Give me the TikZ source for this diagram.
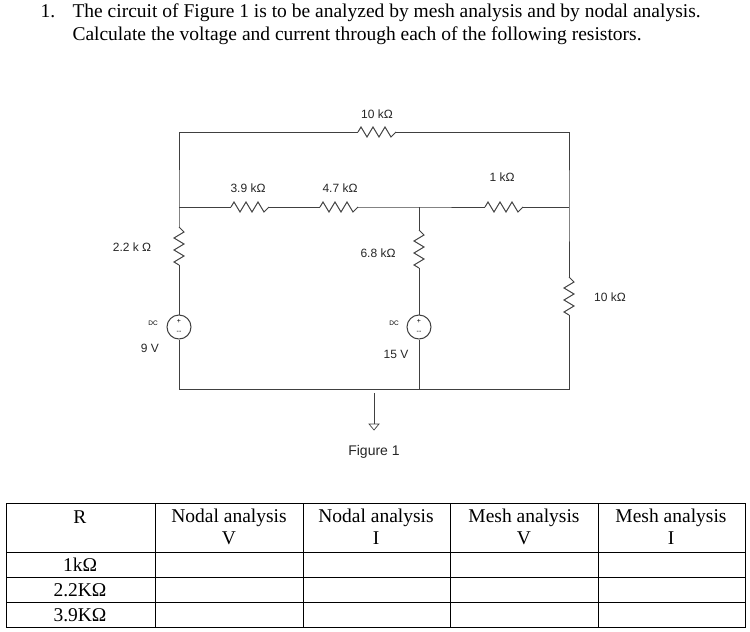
\documentclass[tikz,border=0pt]{standalone}
\usepackage{fontspec}
\setmainfont{Liberation Serif}
\newfontfamily\lab{Liberation Sans}
\begin{document}
\begin{tikzpicture}[x=1pt,y=-1pt,line width=1pt,
  wire/.style={draw=black!75},
  lbl/.style={font=\lab\fontsize{12}{14}\selectfont,text=black!85,inner sep=0},
  tx/.style={font=\fontsize{19.5}{22}\selectfont,inner sep=0,align=center},
  src/.style={circle,draw=black!75,minimum size=24pt,inner sep=0},
  res/.pic={\draw[black!75] (-19,0)--(-16,-5)--(-10,5)--(-4,-5)--(2,5)--(8,-5)--(14,5)--(19,0);}]
\useasboundingbox (0,0) rectangle (750,632);
% header
\node[tx,anchor=base west] (n1) at (40,17) {1.};
\node[tx,anchor=base west] (h1) at (72,17) {The circuit of Figure 1 is to be analyzed by mesh analysis and by nodal analysis.};
\node[tx,anchor=base west] (h2) at (72,40) {Calculate the voltage and current through each of the following resistors.};
% coordinates
\coordinate (TL) at (179,132); \coordinate (TR) at (569,132);
\coordinate (ML) at (179,207); \coordinate (MM) at (419,207); \coordinate (MR) at (569,207);
\coordinate (BL) at (179,389); \coordinate (BM) at (419,389); \coordinate (BR) at (569,389);
% resistors
\pic at (377,132) {res}; \coordinate (r10a) at (358,132); \coordinate (r10b) at (396,132);
\pic at (250,207) {res}; \coordinate (r39a) at (231,207); \coordinate (r39b) at (269,207);
\pic at (339,207) {res}; \coordinate (r47a) at (320,207); \coordinate (r47b) at (358,207);
\pic at (504,207) {res}; \coordinate (r1a) at (485,207); \coordinate (r1b) at (523,207);
\pic[rotate=90] at (179,246) {res}; \coordinate (r22a) at (179,227); \coordinate (r22b) at (179,265);
\pic[rotate=90] at (419,249) {res}; \coordinate (r68a) at (419,230); \coordinate (r68b) at (419,268);
\pic[rotate=90] at (569,296) {res}; \coordinate (r10ra) at (569,277); \coordinate (r10rb) at (569,315);
% sources
\node[src] (s9) at (179,327) {};
\node[src] (s15) at (419,327) {};
\foreach \s in {s9,s15}{
  \node[font=\lab\fontsize{7}{7}\selectfont,inner sep=0] at ([yshift=6]\s.center) {+};
  \node[font=\lab\fontsize{7}{7}\selectfont,inner sep=0] at ([yshift=-5]\s.center) {--};}
% wires
\draw[wire] (TL)--(r10a) (r10b)--(TR)--(MR)--(r10ra) (r10rb)--(BR)--(BL)--(s9.south)
  (s9.north)--(r22b) (r22a)--(ML)--(TL)
  (ML)--(r39a) (r39b)--(r47a) (r47b)--(MM)--(r1a) (r1b)--(MR)
  (MM)--(r68a) (r68b)--(s15.north) (s15.south)--(BM);
% ground
\coordinate (g0) at (374,393); \coordinate (g1) at (374,424);
\draw[wire] (g0)--(g1);
\draw[black!75,line width=0.7pt] (369,424)--(379,424)--(374,430)--cycle;
% labels
\node[lbl] (l10) at (377,114) {10 kΩ};
\node[lbl] (l39) at (248,188) {3.9 kΩ};
\node[lbl] (l47) at (340,188) {4.7 kΩ};
\node[lbl] (l1) at (502,177) {1 kΩ};
\node[lbl] (l22) at (132,247) {2.2 k Ω};
\node[lbl] (l68) at (378,253) {6.8 kΩ};
\node[lbl] (l10r) at (610,297) {10 kΩ};
\node[font=\lab\fontsize{6.5}{7}\selectfont,inner sep=0] (dc1) at (153,323) {DC};
\node[font=\lab\fontsize{6.5}{7}\selectfont,inner sep=0] (dc2) at (394,323) {DC};
\node[lbl] (v9) at (150,348) {9 V};
\node[lbl] (v15) at (396,354) {15 V};
\node[lbl,font=\lab\fontsize{14}{16}\selectfont] (fig) at (374,452) {Figure 1};
% table
\draw[line width=0.8pt] (6,503) rectangle (745,627);
\foreach \y in {552,577,602} \draw[line width=0.8pt] (6,\y)--(745,\y);
\foreach \x in {155,303,450,598} \draw[line width=0.8pt] (\x,503)--(\x,627);
\node[tx] (c0) at (80,517) {R};
\node[tx] (c1) at (229,527) {Nodal analysis\\V};
\node[tx] (c2) at (376,527) {Nodal analysis\\I};
\node[tx] (c3) at (524,527) {Mesh analysis\\V};
\node[tx] (c4) at (671,527) {Mesh analysis\\I};
\node[tx] (r1) at (80,565) {1kΩ};
\node[tx] (r2) at (80,590) {2.2KΩ};
\node[tx] (r3) at (80,615) {3.9KΩ};
\end{tikzpicture}
\end{document}
